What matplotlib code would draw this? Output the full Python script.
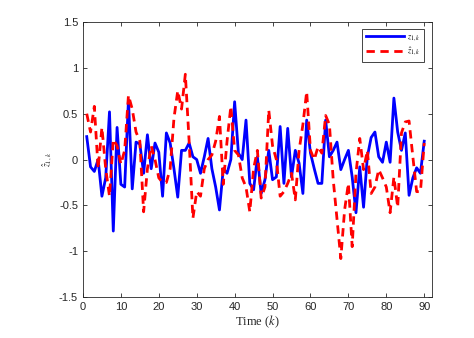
import numpy as np
import matplotlib
matplotlib.use('Agg')
import matplotlib.pyplot as plt

plt.rcParams['font.family'] = ['Liberation Sans', 'DejaVu Sans']
plt.rcParams['mathtext.fontset'] = 'stix'

# time steps
k = np.arange(1, 91)

# z_{1,k} (solid blue)
z = [0.25, -0.08, -0.13, 0.0, -0.4, -0.2, 0.52, -0.78, 0.35, -0.27,
     -0.3, 0.65, -0.32, 0.19, 0.17, -0.15, 0.27, -0.1, 0.18, 0.08,
     -0.4, 0.29, 0.18, -0.1, -0.41, 0.1, 0.1, 0.18, 0.03, 0.0,
     -0.15, 0.03, 0.23, -0.1, -0.3, -0.55, -0.1, -0.15, 0.0, 0.63,
     0.07, 0.0, 0.43, -0.26, -0.33, 0.03, -0.37, -0.22, 0.1, -0.22,
     -0.19, 0.36, -0.26, 0.34, -0.19, 0.1, -0.04, -0.37, 0.43, 0.07,
     -0.1, -0.26, -0.26, 0.43, 0.03, 0.1, 0.19, -0.11, 0.0, 0.1,
     -0.19, -0.58, -0.08, -0.52, 0.03, 0.24, 0.3, 0.03, -0.03, 0.19,
     -0.03, 0.67, 0.3, 0.1, 0.29, -0.39, -0.2, -0.09, -0.15, 0.2]

# hat z_{1,k} (dashed red)
z_hat = [0.5, 0.3, 0.58, -0.1, 0.35, -0.1, -0.4, 0.22, 0.15, -0.05,
         0.1, 0.7, 0.55, 0.3, 0.2, -0.57, -0.1, 0.15, 0.0, -0.2,
         -0.25, -0.25, -0.1, 0.45, 0.75, 0.55, 0.93, 0.2, -0.64, -0.35,
         -0.4, -0.1, 0.0, 0.05, 0.2, 0.47, -0.27, 0.2, 0.58, 0.1,
         0.05, -0.2, -0.3, -0.57, -0.1, 0.1, -0.42, -0.3, 0.54, 0.15,
         0.0, -0.4, -0.35, -0.26, -0.15, -0.44, 0.1, 0.38, 0.74, 0.1,
         0.0, 0.14, 0.07, 0.48, 0.38, -0.22, -0.65, -1.08, -0.55, -0.26,
         -0.95, -0.15, 0.23, -0.11, 0.1, -0.37, -0.3, -0.11, -0.2, -0.3,
         -0.58, -0.19, -0.52, 0.29, 0.41, 0.42, 0.03, -0.35, -0.35, 0.18]

xticks = [0, 10, 20, 30, 40, 50, 60, 70, 80, 90]
yticks = [-1.5, -1, -0.5, 0, 0.5, 1, 1.5]

fig = plt.figure(figsize=(4.74, 3.38), dpi=100)
ax = fig.add_axes([0.175, 0.121, 0.736, 0.814])

ax.plot(k, z, color='#0000ff', linewidth=2, label=r'$z_{1,k}$')
ax.plot(k, z_hat, color='#ff0000', linewidth=2, linestyle='--',
        dashes=(3, 2), label=r'$\hat{z}_{1,k}$')

ax.set_xlim(0, 92)
ax.set_ylim(-1.5, 1.5)
ax.set_xticks(xticks)
ax.set_yticks(yticks)
ax.set_yticklabels(['-1.5', '-1', '-0.5', '0', '0.5', '1', '1.5'])
ax.tick_params(direction='in', length=3, width=0.6, labelsize=8,
               colors='#262626', top=True, right=True,
               labeltop=False, labelright=False)
for s in ax.spines.values():
    s.set_color('#262626')
    s.set_linewidth(0.6)

ax.set_xlabel(r'Time ($k$)', fontsize=9, family='Liberation Serif',
              color='#262626', labelpad=1)
ax.set_ylabel(r'$\hat{z}_{1,k}$', fontsize=7, color='#262626', labelpad=3)

leg = ax.legend(loc='upper right', fontsize=6, handlelength=4.6,
                fancybox=False, edgecolor='#262626', framealpha=1,
                borderaxespad=0.9, labelspacing=0.3, borderpad=0.45,
                handletextpad=0.4)
leg.get_frame().set_linewidth(0.6)

fig.savefig('out.png', dpi=100)
